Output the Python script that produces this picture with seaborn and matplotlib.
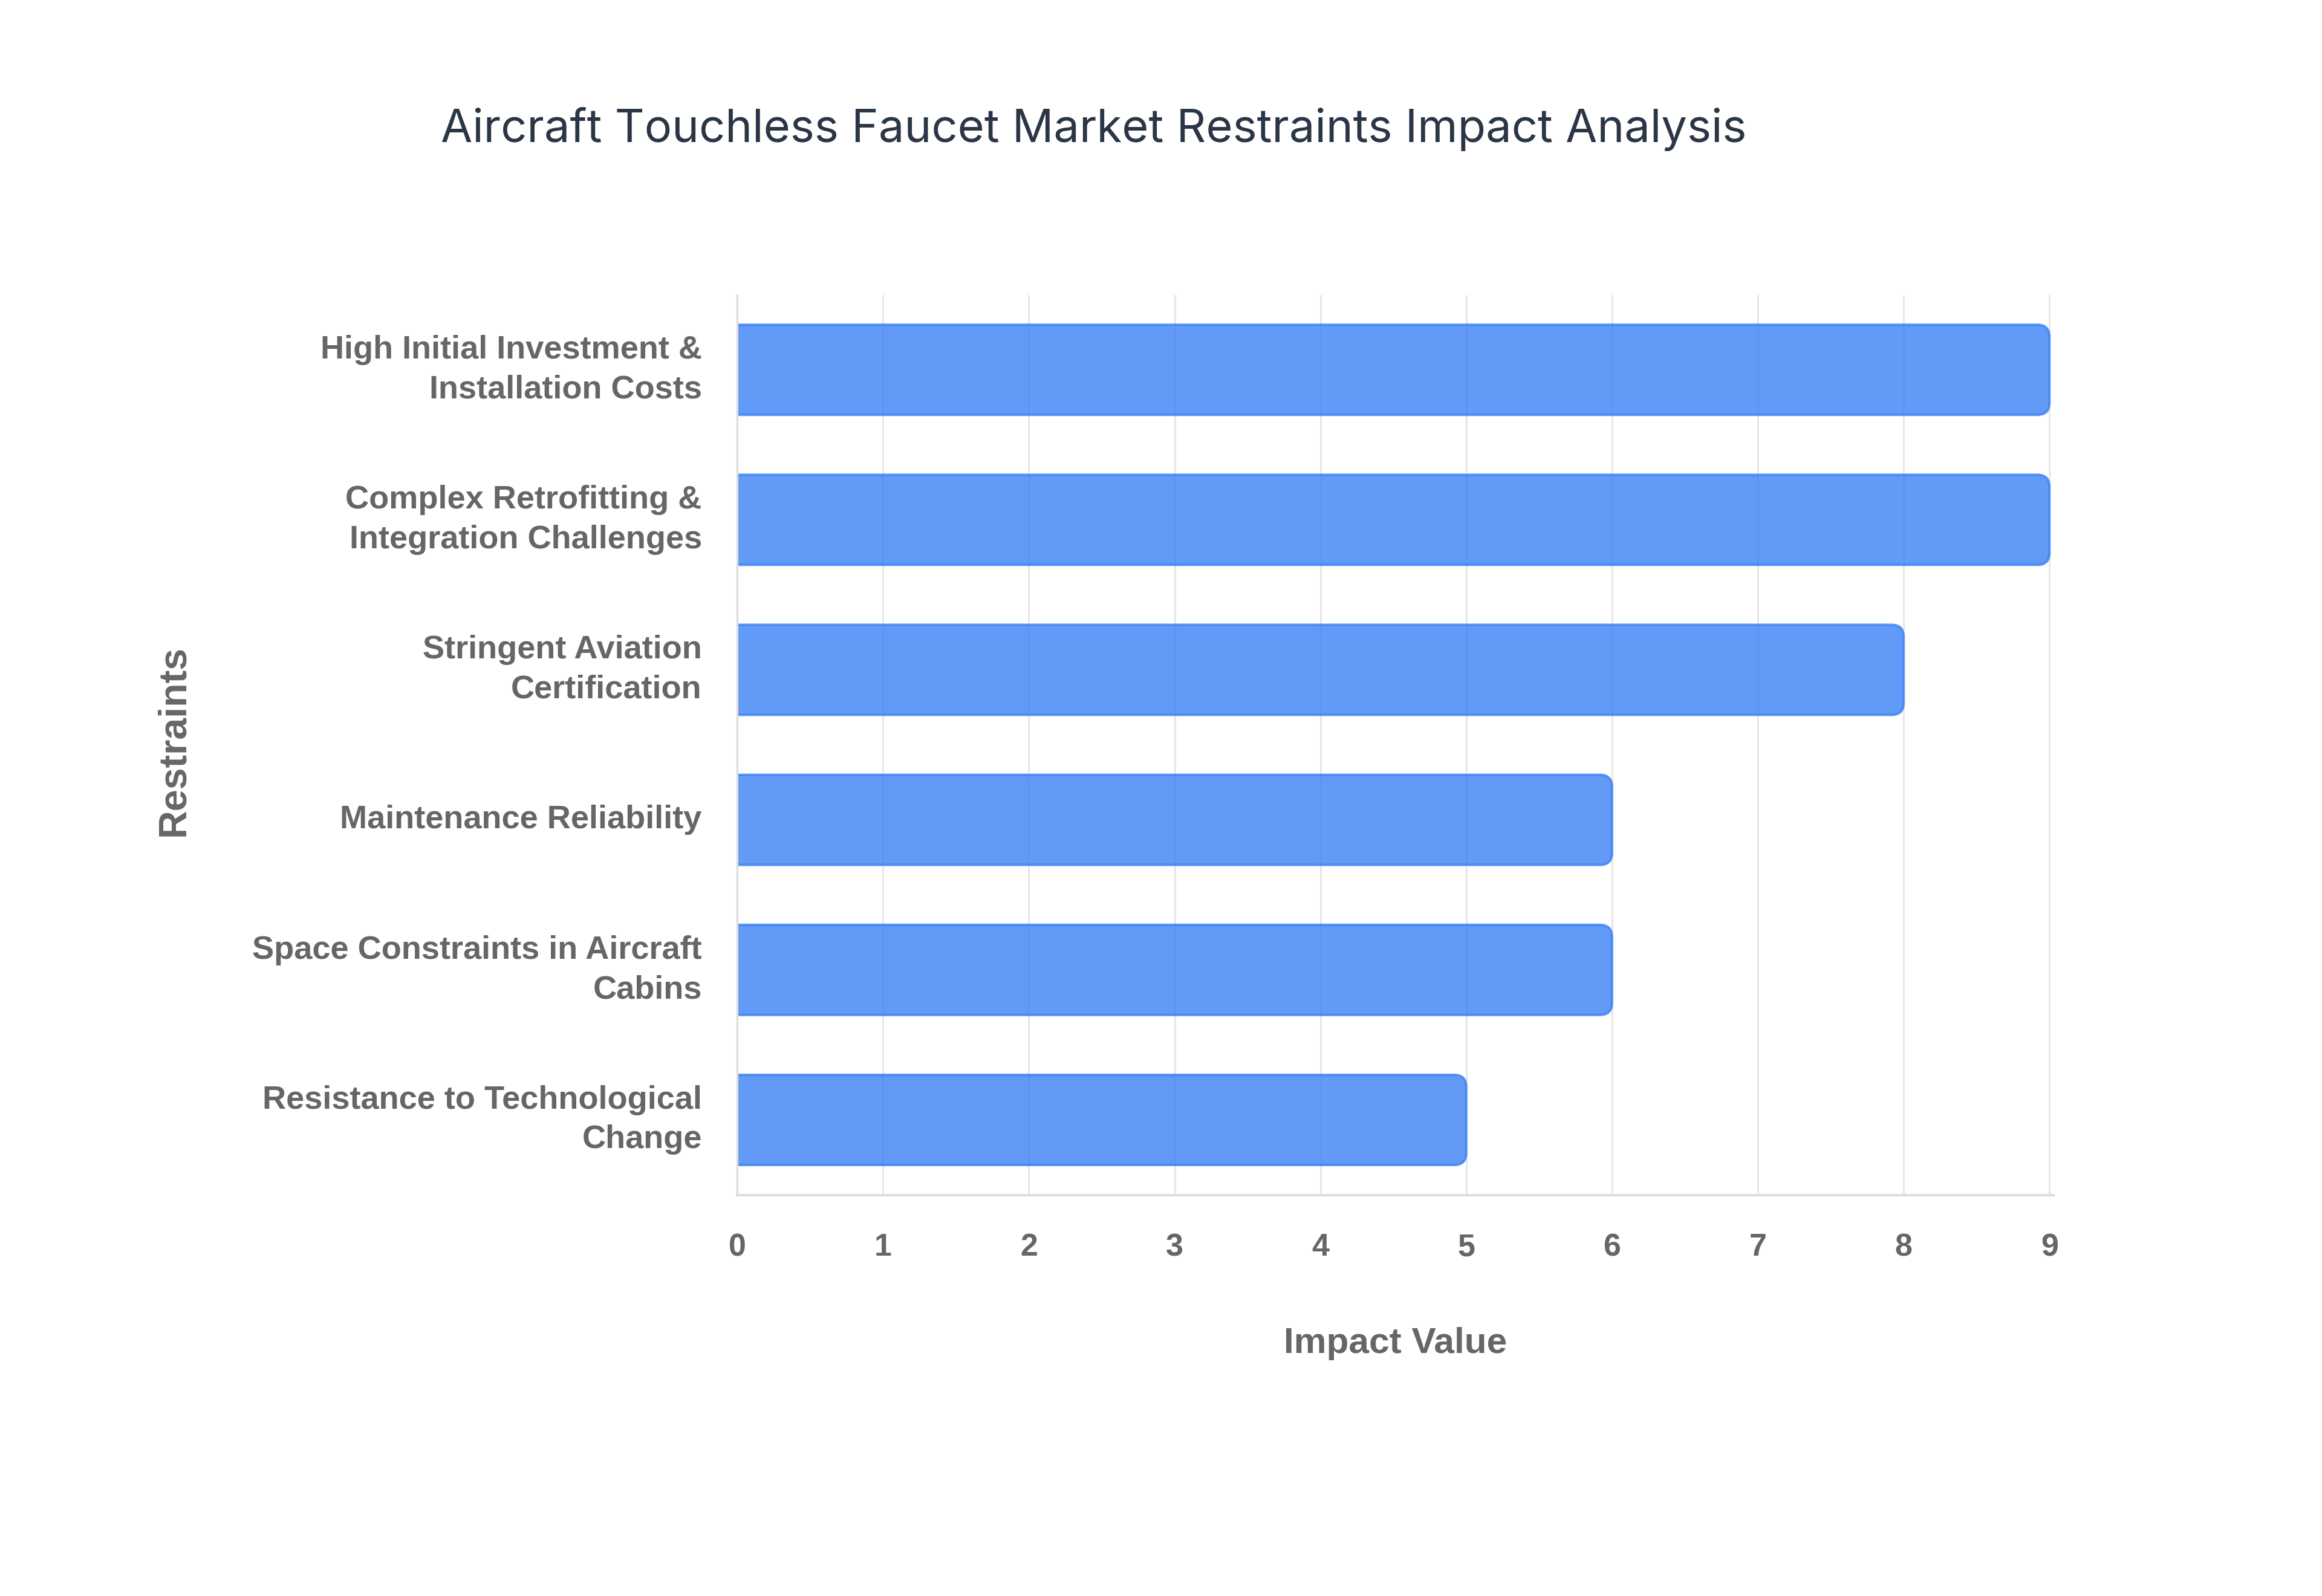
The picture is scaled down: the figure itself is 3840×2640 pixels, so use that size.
import pandas as pd
import seaborn as sns
import matplotlib.pyplot as plt
from matplotlib.patches import FancyBboxPatch

# Chart data
restraints = [
    "High Initial Investment &\nInstallation Costs",
    "Complex Retrofitting &\nIntegration Challenges",
    "Stringent Aviation\nCertification",
    "Maintenance Reliability",
    "Space Constraints in Aircraft\nCabins",
    "Resistance to Technological\nChange",
]
impact_values = [9, 9, 8, 6, 6, 5]
x_ticks = [0, 1, 2, 3, 4, 5, 6, 7, 8, 9]

df = pd.DataFrame({"Restraints": restraints, "Impact Value": impact_values})

sns.set_style("white")
plt.rcParams['font.family'] = ['Liberation Sans', 'DejaVu Sans']

label_color = "#666666"
grid_color = "#e6e6e6"
bar_color = "#3b82f6"

fig = plt.figure(figsize=(12.8, 8.8), dpi=300)
ax = fig.add_axes([0.3175, 0.2513, 0.567, 0.564])

sns.barplot(data=df, x="Impact Value", y="Restraints", orient="h",
            color=bar_color, width=0.6, ax=ax, zorder=2)

ax.set_xlim(0, 9.03)
ax.set_ylim(5.5, -0.5)

# replace plain bars with right-rounded ones
fig.canvas.draw()
bbox = ax.get_window_extent()
x_per_px = (ax.get_xlim()[1] - ax.get_xlim()[0]) / bbox.width
y_per_px = 6.0 / bbox.height
r = 20 * x_per_px
old = list(ax.patches)
for p in old:
    x0, y0 = p.get_x(), p.get_y()
    w, h = p.get_width(), p.get_height()
    p.remove()
    fb = FancyBboxPatch((x0 - r * 2, y0), w + r * 2, h,
                        boxstyle=f"round,pad=0,rounding_size={r}",
                        mutation_aspect=y_per_px / x_per_px,
                        facecolor=bar_color, alpha=0.8,
                        edgecolor=bar_color, linewidth=1.0, zorder=2)
    ax.add_patch(fb)

ax.set_xticks(x_ticks)
ax.grid(axis="x", color=grid_color, linewidth=0.7, zorder=0)
ax.grid(axis="y", visible=False)
ax.set_axisbelow(True)

ax.tick_params(axis="x", length=8, width=0.7, color=grid_color, pad=7,
               labelsize=12.5, labelcolor=label_color)
ax.tick_params(axis="y", length=0, pad=14, labelsize=13, labelcolor=label_color)
for lbl in ax.get_xticklabels() + ax.get_yticklabels():
    lbl.set_fontweight("bold")
for lbl in ax.get_yticklabels():
    lbl.set_linespacing(1.4)
    lbl.set_va("center")

sns.despine(ax=ax, top=True, right=True)
ax.spines["left"].set_color("#dddddd")
ax.spines["bottom"].set_color("#dddddd")
ax.spines["left"].set_linewidth(0.8)
ax.spines["bottom"].set_linewidth(1.0)

ax.set_xlabel("Impact Value", fontsize=14.5, fontweight="bold", color=label_color)
ax.set_ylabel("Restraints", fontsize=15.5, fontweight="bold", color=label_color)
ax.xaxis.label.set_va("center")
ax.yaxis.label.set_va("center")
ax.xaxis.set_label_coords(0.5, -0.165)
ax.yaxis.set_label_coords(-0.428, 0.505)

fig.text(0.471, 0.919, "Aircraft Touchless Faucet Market Restraints Impact Analysis",
         ha="center", va="center", fontsize=18.2, color="#2a3546",
         family=["Inter", "DejaVu Sans"])

fig.savefig("out.png", dpi=300, facecolor="white")
